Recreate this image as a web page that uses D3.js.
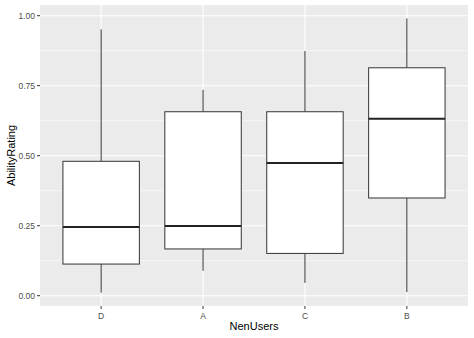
<!DOCTYPE html>
<html><head><meta charset="utf-8">
<script src="https://cdn.jsdelivr.net/npm/d3@7"></script>
<style>body{margin:0;background:#fff}svg{display:block}text{font-family:"Liberation Sans",Arial,sans-serif}</style>
</head><body><svg id="c" width="474" height="338"></svg>
<script>
const categories = ["D", "A", "C", "B"];
const whiskerLow = [0.011, 0.089, 0.046, 0.013];
const q1 = [0.113, 0.167, 0.151, 0.349];
const median = [0.245, 0.249, 0.474, 0.632];
const q3 = [0.48, 0.657, 0.657, 0.814];
const whiskerHigh = [0.951, 0.735, 0.874, 0.99];
const yTicks = [0, 0.25, 0.5, 0.75, 1];
const yMinor = [0.125, 0.375, 0.625, 0.875];

const svg = d3.select("#c");
const L = 40, R = 468, T = 5, B = 306;
svg.append("rect").attr("x", L).attr("y", T).attr("width", R - L).attr("height", B - T).attr("fill", "#EBEBEB");

const y = d3.scaleLinear().domain([0, 1]).range([295.7, 15.7]);
const xb = d3.scaleBand().domain(categories).range([L, R]).paddingOuter(0.1).paddingInner(0);
// discrete: center positions, band width=1 unit
const unit = (R - L) / 4.2;
const cx = c => L + (0.6 + categories.indexOf(c)) * unit;

const g = svg.append("g");
g.selectAll(".ymin").data(yMinor).join("line").attr("x1", L).attr("x2", R)
  .attr("y1", d => y(d)).attr("y2", d => y(d)).attr("stroke", "#fff").attr("stroke-width", 0.55);
g.selectAll(".ymaj").data(yTicks).join("line").attr("x1", L).attr("x2", R)
  .attr("y1", d => y(d)).attr("y2", d => y(d)).attr("stroke", "#fff").attr("stroke-width", 1.1);
g.selectAll(".xmaj").data(categories).join("line").attr("x1", d => cx(d)).attr("x2", d => cx(d))
  .attr("y1", T).attr("y2", B).attr("stroke", "#fff").attr("stroke-width", 1.1);

const data = categories.map((c, i) => ({c, lo: whiskerLow[i], q1: q1[i], med: median[i], q3: q3[i], hi: whiskerHigh[i]}));
const bw = 0.75 * unit;
const bx = svg.append("g");
data.forEach(d => {
  const x0 = cx(d.c);
  bx.append("line").attr("x1", x0).attr("x2", x0).attr("y1", y(d.hi)).attr("y2", y(d.q3)).attr("stroke", "#333").attr("stroke-width", 1);
  bx.append("line").attr("x1", x0).attr("x2", x0).attr("y1", y(d.q1)).attr("y2", y(d.lo)).attr("stroke", "#333").attr("stroke-width", 1);
  bx.append("rect").attr("x", x0 - bw / 2).attr("y", y(d.q3)).attr("width", bw).attr("height", y(d.q1) - y(d.q3))
    .attr("fill", "#fff").attr("stroke", "#333").attr("stroke-width", 1);
  bx.append("line").attr("x1", x0 - bw / 2).attr("x2", x0 + bw / 2).attr("y1", y(d.med)).attr("y2", y(d.med)).attr("stroke", "#222").attr("stroke-width", 2);
});

// axes
const ya = svg.append("g");
yTicks.forEach(t => {
  ya.append("line").attr("x1", L - 3).attr("x2", L).attr("y1", y(t)).attr("y2", y(t)).attr("stroke", "#333");
  ya.append("text").attr("x", L - 5).attr("y", y(t)).attr("dy", "0.35em").attr("text-anchor", "end")
    .attr("font-size", 8.5).attr("fill", "#4D4D4D").text(d3.format(".2f")(t));
});
categories.forEach(c => {
  ya.append("line").attr("x1", cx(c)).attr("x2", cx(c)).attr("y1", B).attr("y2", B + 3).attr("stroke", "#333");
  ya.append("text").attr("x", cx(c)).attr("y", B + 13).attr("text-anchor", "middle")
    .attr("font-size", 8.5).attr("fill", "#4D4D4D").text(c);
});
svg.append("text").attr("x", (L + R) / 2).attr("y", 330).attr("text-anchor", "middle").attr("font-size", 11).attr("fill", "#000").text("NenUsers");
svg.append("text").attr("transform", `translate(15,${(T + B) / 2}) rotate(-90)`).attr("text-anchor", "middle").attr("font-size", 11).attr("fill", "#000").text("AbilityRating");
</script></body></html>
